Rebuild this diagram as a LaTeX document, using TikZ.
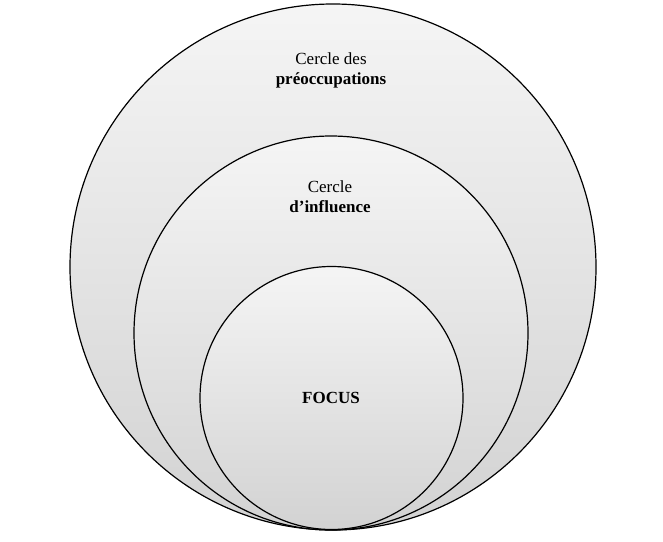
\documentclass[tikz,border=0pt]{standalone}
\usepackage{fontspec}
\setmainfont{Liberation Serif}
\begin{document}
\begin{tikzpicture}[x=1pt,y=-1pt,
  circ/.style={draw=black,line width=1.2pt,top color=gray!8,bottom color=gray!35,shading angle=0},
  lbl/.style={font=\fontsize{17}{20}\selectfont,align=center}]
\useasboundingbox (0,0) rectangle (663,541);
\node[circle,circ,minimum size=526pt,inner sep=0pt] (outer) at (333,267) {};
\node[circle,circ,minimum size=394pt,inner sep=0pt] (mid) at (331,333) {};
\node[circle,circ,minimum size=263pt,inner sep=0pt] (inner) at (331.5,398) {};
\node[lbl] (t1) at (331,70) {Cercle des\\\textbf{préoccupations}};
\node[lbl] (t2) at (330,197) {Cercle\\\textbf{d'influence}};
\node[lbl] (t3) at (331,398) {\textbf{FOCUS}};
\end{tikzpicture}
\end{document}
